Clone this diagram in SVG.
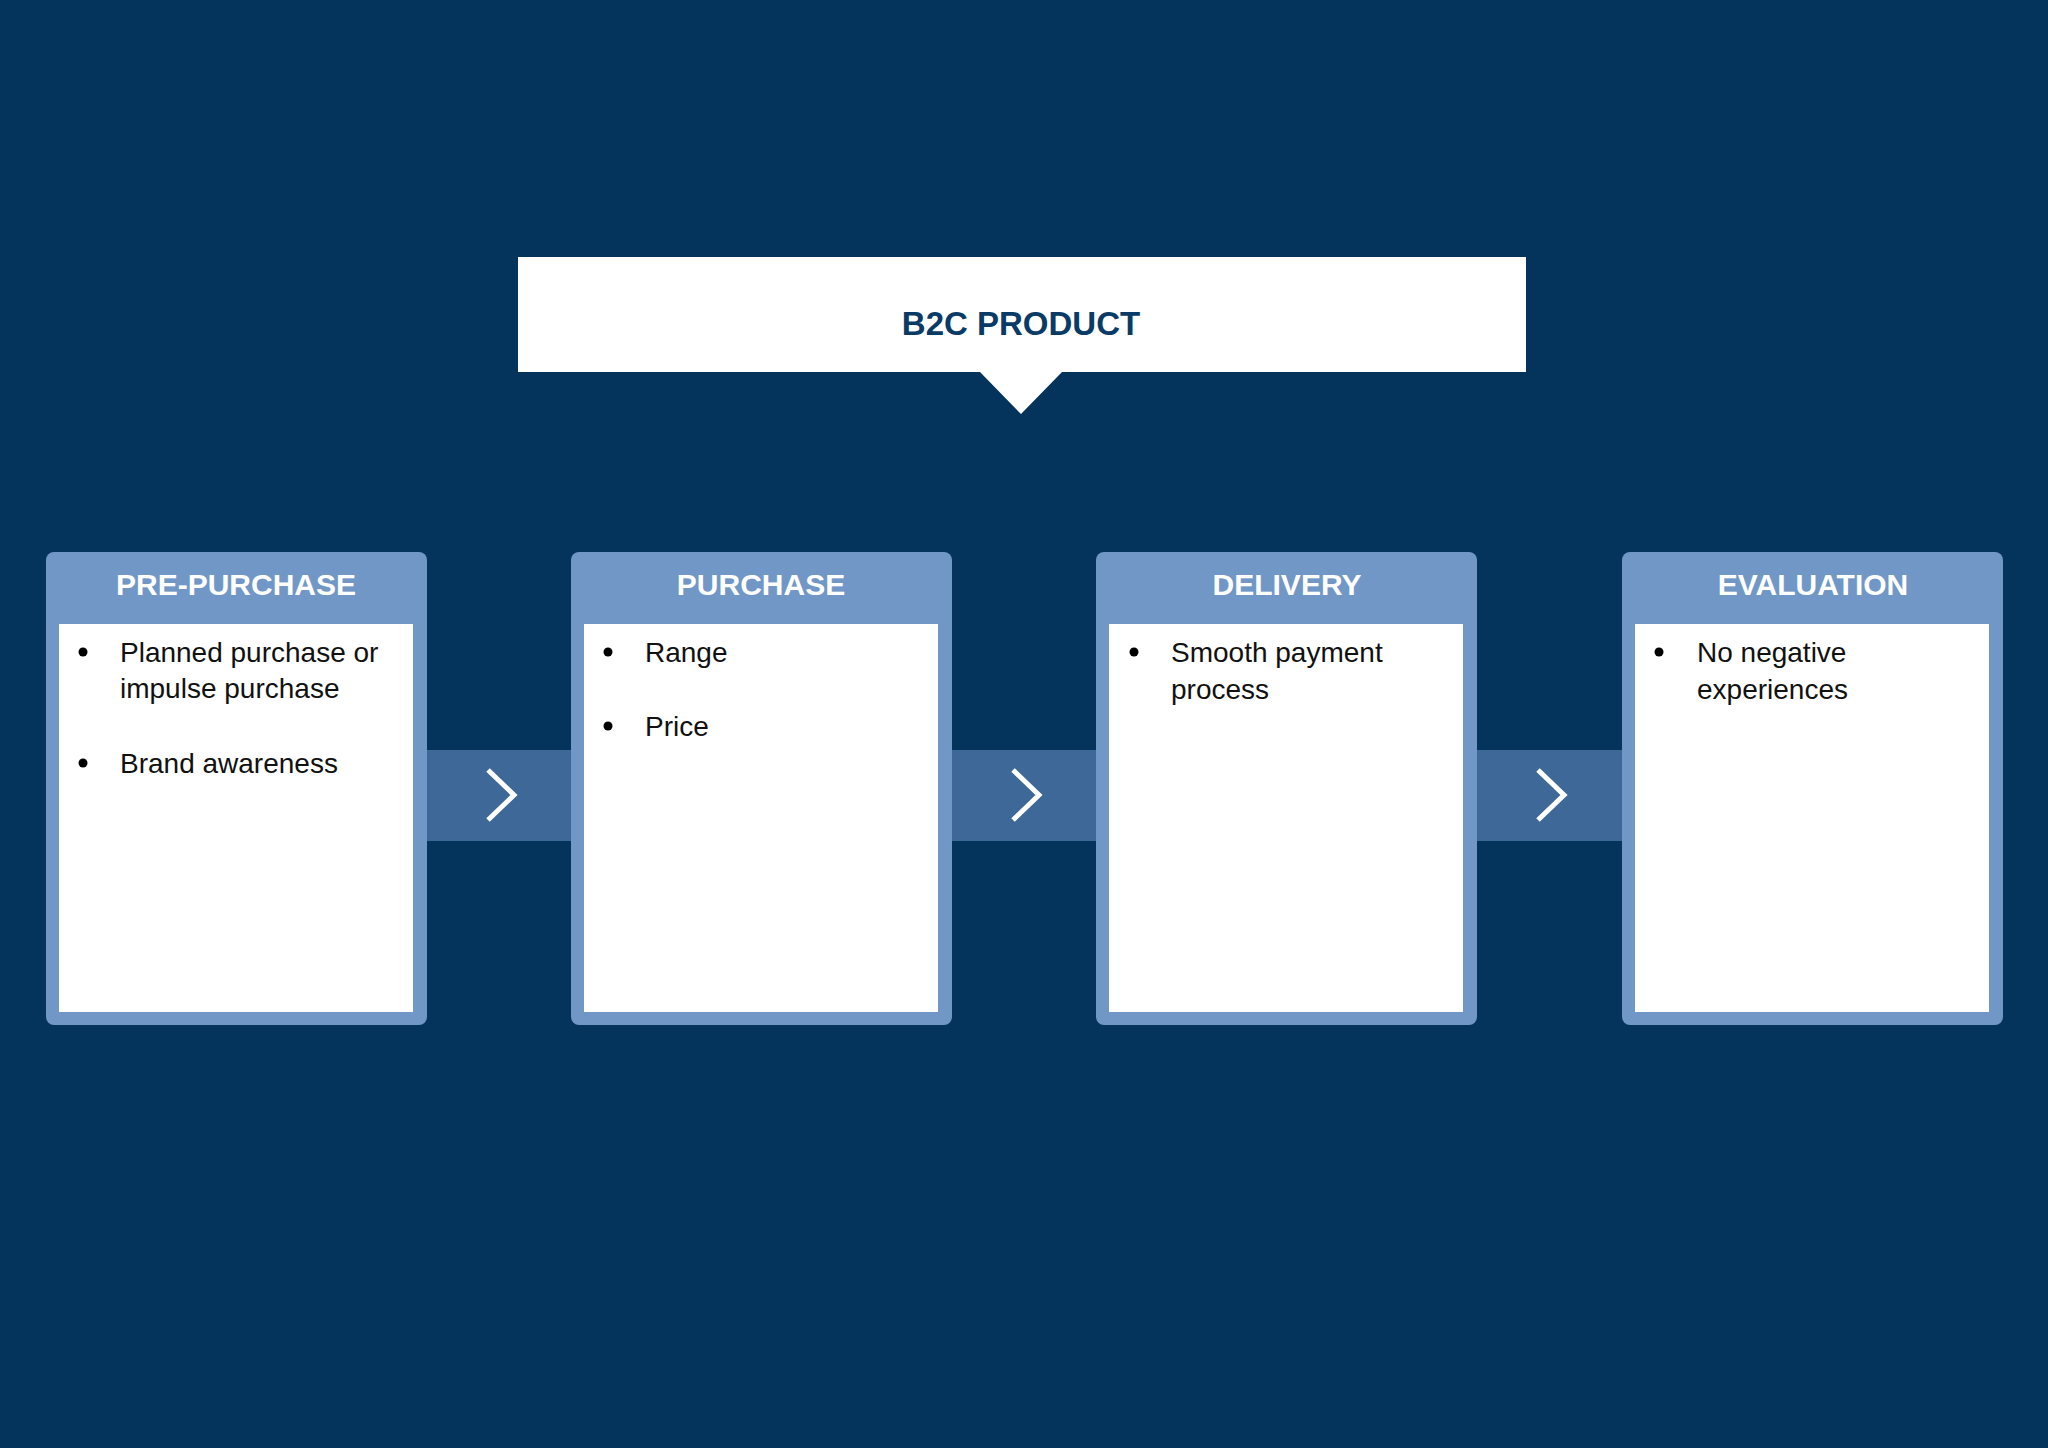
<svg xmlns="http://www.w3.org/2000/svg" width="2048" height="1448" viewBox="0 0 2048 1448">
<style>
.card{fill:#7097c6}
.inner{fill:#ffffff}
.hd{font-family:"Liberation Sans",Arial,sans-serif;font-weight:bold;font-size:30px;fill:#ffffff;text-anchor:middle;dominant-baseline:central}
.tx{font-family:"Liberation Sans",Arial,sans-serif;font-size:28px;fill:#111111;dominant-baseline:central}
.band{fill:#3d6898}
.chev{fill:none;stroke:#ffffff;stroke-width:5}
</style>
<rect width="2048" height="1448" fill="#04335c"/>
<g id="connectors">
<rect class="band" x="427" y="750" width="144" height="91"/>
<path class="chev" d="M488 770 L514 795 L488 820"/>
<rect class="band" x="952" y="750" width="144" height="91"/>
<path class="chev" d="M1013 770 L1039 795 L1013 820"/>
<rect class="band" x="1477" y="750" width="145" height="91"/>
<path class="chev" d="M1538 770 L1564 795 L1538 820"/>
</g>
<g id="b2c">
<path d="M518 257 H1526 V372 H1062 L1021 414 L980 372 H518 Z" fill="#ffffff"/>
<text x="1021" y="323" font-family="Liberation Sans,Arial,sans-serif" font-weight="bold" font-size="33" fill="#0a3a66" text-anchor="middle" dominant-baseline="central">B2C PRODUCT</text>
</g>
<g id="pre">
<rect class="card" x="46" y="552" width="381" height="473" rx="8"/>
<rect class="inner" x="59" y="624" width="354" height="388"/>
<text class="hd" x="236" y="584">PRE-PURCHASE</text>
<circle cx="83" cy="652" r="4.5"/><text class="tx" x="120" y="652">Planned purchase or</text>
<text class="tx" x="120" y="688">impulse purchase</text>
<circle cx="83" cy="763" r="4.5"/><text class="tx" x="120" y="763">Brand awareness</text>
</g>
<g id="purchase">
<rect class="card" x="571" y="552" width="381" height="473" rx="8"/>
<rect class="inner" x="584" y="624" width="354" height="388"/>
<text class="hd" x="761" y="584">PURCHASE</text>
<circle cx="608" cy="652" r="4.5"/><text class="tx" x="645" y="652">Range</text>
<circle cx="608" cy="726" r="4.5"/><text class="tx" x="645" y="726">Price</text>
</g>
<g id="delivery">
<rect class="card" x="1096" y="552" width="381" height="473" rx="8"/>
<rect class="inner" x="1109" y="624" width="354" height="388"/>
<text class="hd" x="1287" y="584">DELIVERY</text>
<circle cx="1134" cy="652" r="4.5"/><text class="tx" x="1171" y="652">Smooth payment</text>
<text class="tx" x="1171" y="689">process</text>
</g>
<g id="evaluation">
<rect class="card" x="1622" y="552" width="381" height="473" rx="8"/>
<rect class="inner" x="1635" y="624" width="354" height="388"/>
<text class="hd" x="1813" y="584">EVALUATION</text>
<circle cx="1659" cy="652" r="4.5"/><text class="tx" x="1697" y="652">No negative</text>
<text class="tx" x="1697" y="689">experiences</text>
</g>
</svg>
